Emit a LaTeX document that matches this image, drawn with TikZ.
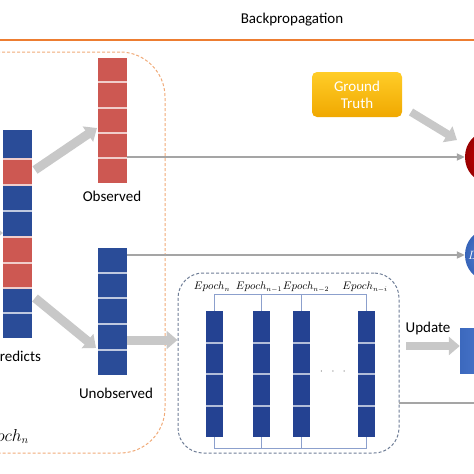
\documentclass[tikz,border=0pt]{standalone}
\usepackage{fontspec}
\setmainfont{Carlito}
\usetikzlibrary{arrows.meta,shapes.geometric}
\definecolor{cred}{RGB}{205,88,82}
\definecolor{cblue}{RGB}{42,76,152}
\definecolor{cblue2}{RGB}{36,66,146}
\definecolor{orng}{RGB}{237,125,49}
\definecolor{lorng}{RGB}{240,170,120}
\definecolor{dblue}{RGB}{110,125,150}
\definecolor{brk}{RGB}{140,160,205}
\definecolor{lgray}{RGB}{165,165,165}
\definecolor{fatgray}{RGB}{200,200,200}
\definecolor{gold1}{RGB}{255,205,40}
\definecolor{gold2}{RGB}{240,168,0}
\begin{document}
\begin{tikzpicture}[x=1pt,y=-1pt,
  colbox/.style={inner sep=0pt, outer sep=0pt, minimum width=29pt},
  smallcol/.style={inner sep=0pt, outer sep=0pt, minimum width=17pt, minimum height=126pt, fill=cblue2},
  sep/.style={line width=1.2pt},
  thinarrow/.style={draw=lgray, line width=2pt, -{Triangle[length=8pt,width=7pt]}},
  plainline/.style={draw=lgray, line width=2pt},
  fat/.style={draw=fatgray, line width=9pt, -{Triangle[length=11pt,width=18pt]}},
  lbl/.style={font=\fontsize{15}{16}\selectfont, inner sep=0pt},
  eplbl/.style={font=\fontsize{10.5}{11}\selectfont, inner sep=0pt},
  brkline/.style={draw=brk, line width=1pt}
]
\useasboundingbox (0,0) rectangle (474,474);

% header
\node[lbl] (bp) at (292,20) {Backpropagation};
\coordinate (hl) at (0,40);
\coordinate (hr) at (474,40);
\draw[orng, line width=2pt] (hl) -- (hr);

% orange dashed region
\node[draw=lorng, dashed, dash pattern=on 3pt off 2pt, line width=1pt, rounded corners=45pt,
      minimum width=215pt, minimum height=401pt, inner sep=0pt] (oreg) at (57.5,252.5) {};
\node[font=\fontsize{16}{16}\selectfont, inner sep=0pt, anchor=east] (epn) at (29,437) {$Epoch_{n}$};

% predicts column
\node[colbox, minimum height=208pt, fill=cblue] (pred) at (17.5,234) {};
\fill[cred] (3,159) rectangle (32,185);
\fill[cred] (3,237) rectangle (32,288);
\foreach \yy/\cc in {159/cred,185/cred,211/cblue,237/cred,263/cred,288/cred,313/cblue}
  \draw[sep, white!70!\cc] (3,\yy) -- (32,\yy);
\node[lbl] (predl) at (16.5,356) {Predicts};

% incoming arrow tip at left edge
\coordinate (inl) at (-25,233);
\draw[fat] (inl) -- (pred.west |- inl);

% observed column
\node[colbox, minimum height=125pt, fill=cred] (obs) at (112.5,120.5) {};
\foreach \yy in {82,108,133,158}
  \draw[sep, white!70!cred] (98,\yy) -- (127,\yy);
\node[lbl] (obsl) at (112,196) {Observed};

% unobserved column
\node[colbox, minimum height=127pt, fill=cblue] (unobs) at (112.5,311.5) {};
\foreach \yy in {273,298,324,350}
  \draw[sep, white!70!cblue] (98,\yy) -- (127,\yy);
\node[lbl] (unobsl) at (116,393) {Unobserved};

% fat arrows from predicts
\coordinate (p1) at (35,170);
\coordinate (o1) at (97,128);
\draw[fat] (p1) -- (o1);
\coordinate (p2) at (35,298);
\coordinate (u2) at (96,348);
\draw[fat] (p2) -- (u2);

% ground truth
\node[rounded corners=5pt, top color=gold1, bottom color=gold2, draw=none,
      minimum width=90pt, minimum height=45pt, inner sep=0pt, text=white,
      font=\fontsize{15}{17}\selectfont, align=center] (gt) at (357,94.5) {Ground\\Truth};

% red circle
\node[ellipse, inner color=red!85!black, outer color=red!60!black, minimum width=44pt, minimum height=50pt, inner sep=0pt] (rc) at (487,157) {};
% blue circle
\node[ellipse, inner color={rgb,255:red,90;green,135;blue,215}, outer color={rgb,255:red,55;green,100;blue,185}, minimum width=44pt, minimum height=50pt, inner sep=0pt] (bc) at (487,255) {};
\node[font=\fontsize{12}{12}\selectfont, text=white, inner sep=0pt, anchor=west] (lu) at (468,255) {$L$};

% thin arrows
\draw[thinarrow] (obs.east |- rc.west) -- (rc.west);
\draw[thinarrow] (unobs.east |- bc.west) -- (bc.west);
\coordinate (g1) at (411,112);
\coordinate (g2) at (457,140);
\draw[fat, line width=8pt] (g1) -- (g2);

% epoch box
\node[draw=dblue, dashed, dash pattern=on 3pt off 2pt, line width=1pt, rounded corners=25pt,
      minimum width=221pt, minimum height=180pt, inner sep=0pt] (ebox) at (288.5,363) {};
\coordinate (u3) at (127,340);
\draw[fat] (u3) -- (ebox.west |- u3);

% small columns
\node[smallcol] (c1) at (214,374) {};
\node[smallcol] (c2) at (261.5,374) {};
\node[smallcol] (c3) at (301.5,374) {};
\node[smallcol] (c4) at (366.5,374) {};
\foreach \cx in {214,261.5,301.5,366.5}
  \foreach \yy in {343,374,406}
    \draw[sep, white!65!cblue2] (\cx-8.5,\yy) -- (\cx+8.5,\yy);

% brackets
\coordinate (bt1) at (214,294);
\coordinate (bt4) at (366.5,294);
\draw[brkline] (bt1) -- (bt4);
\coordinate (bb1) at (214,448);
\coordinate (bb4) at (366.5,448);
\draw[brkline] (bb1) -- (bb4);
\foreach \c in {c1,c2,c3,c4} {
  \draw[brkline] (\c.north) -- (\c.north |- bt1);
  \draw[brkline] (\c.south) -- (\c.south |- bb1);
}

% epoch labels
\node[eplbl] (e1) at (212,287) {$Epoch_{n}$};
\node[eplbl] (e2) at (259,287) {$Epoch_{n-1}$};
\node[eplbl] (e3) at (306,287) {$Epoch_{n-2}$};
\node[eplbl] (e4) at (365,287) {$Epoch_{n-i}$};
\node[font=\fontsize{12}{12}\selectfont, text=gray, inner sep=0pt] (dots) at (333,372) {$\cdot\ \ \cdot\ \ \cdot$};

% update
\node[lbl] (upd) at (428,328) {Update};
\node[inner sep=0pt, left color={rgb,255:red,60;green,105;blue,190}, right color={rgb,255:red,75;green,120;blue,205},
      minimum width=32pt, minimum height=45pt] (ubox) at (476,350.5) {};
\coordinate (ua) at (406,346);
\draw[fat, line width=8pt] (ua) -- (ubox.west |- ua);

% bottom line
\coordinate (bl1) at (399,403);
\coordinate (bl2) at (474,403);
\draw[plainline] (bl1) -- (bl2);
\end{tikzpicture}
\end{document}
